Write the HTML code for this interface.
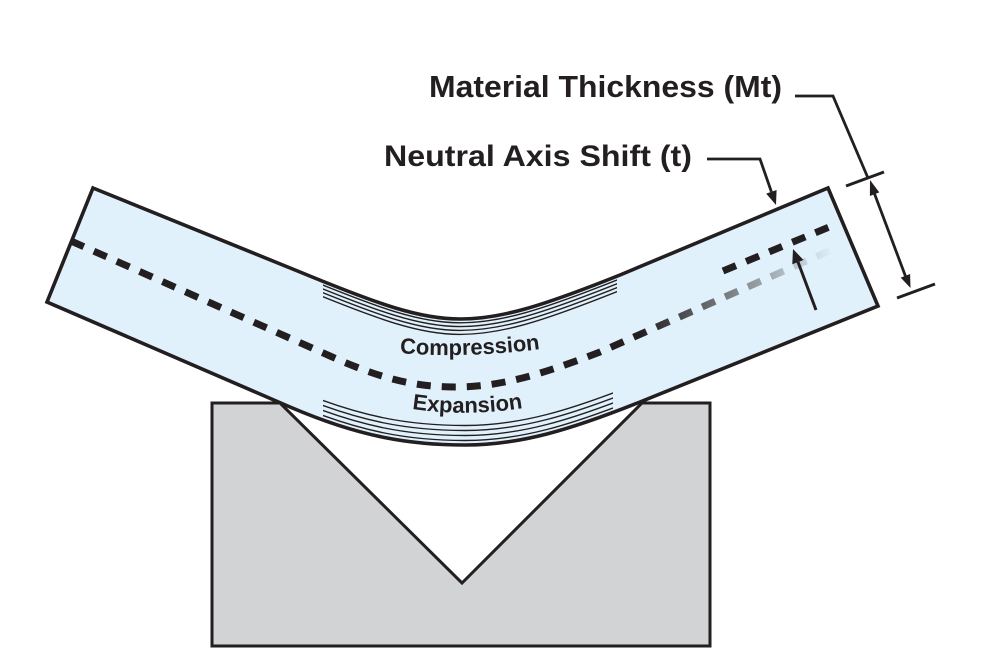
<!DOCTYPE html>
<html>
<head>
<meta charset="utf-8">
<style>
  html, body { margin: 0; padding: 0; background: #ffffff; }
  svg { display: block; }
  text { font-family: "Liberation Sans", "DejaVu Sans", sans-serif; font-weight: bold; fill: #231f20; }
</style>
</head>
<body>
<svg width="988" height="666" viewBox="0 0 988 666" xmlns="http://www.w3.org/2000/svg">
  <defs>
    <linearGradient id="fade" gradientUnits="userSpaceOnUse" x1="640" y1="0" x2="835" y2="0">
      <stop offset="0" stop-color="#231f20" stop-opacity="1"/>
      <stop offset="1" stop-color="#231f20" stop-opacity="0"/>
    </linearGradient>
    <clipPath id="clipTop"><rect x="323" y="200" width="294" height="200"/></clipPath>
    <clipPath id="clipBot"><rect x="323" y="350" width="290" height="120"/></clipPath>
    <path id="topEdge" d="M93,188 L300,272 C380,305 420,319 460,319 C500,319 540,307 620,275 L828,188"/>
    <path id="botEdge" d="M47,302 L290,407 C360,437 410,445 465,445 C520,445 570,430 640,402 L878,306"/>
    <path id="compPath" d="M385,352 Q468,360 555,347"/>
    <path id="expPath" d="M400,407 Q467,419 535,406"/>
  </defs>

  <!-- Die -->
  <path d="M280,403 H212 V646 H710 V403 H642 L462,583 Z" fill="#d1d3d4" stroke="#231f20" stroke-width="3" stroke-linejoin="miter"/>

  <!-- Sheet -->
  <path d="M93,188 L300,272 C380,305 420,319 460,319 C500,319 540,307 620,275 L828,188 L878,306 L640,402 C570,430 520,445 465,445 C410,445 360,437 290,407 L47,302 Z"
        fill="#e1f1fb" stroke="#231f20" stroke-width="3.6" stroke-linejoin="miter"/>

  <!-- Compression lines -->
  <g clip-path="url(#clipTop)" fill="none" stroke="#231f20" stroke-width="1.4">
    <use href="#topEdge" transform="translate(0,3.8)"/>
    <use href="#topEdge" transform="translate(0,7.6)"/>
    <use href="#topEdge" transform="translate(0,11.4)"/>
    <use href="#topEdge" transform="translate(0,15.4)"/>
  </g>

  <!-- Expansion lines -->
  <g clip-path="url(#clipBot)" fill="none" stroke="#231f20" stroke-width="1.4">
    <use href="#botEdge" transform="translate(0,-4.5)"/>
    <use href="#botEdge" transform="translate(0,-9.5)"/>
    <use href="#botEdge" transform="translate(0,-14.5)"/>
    <use href="#botEdge" transform="translate(0,-19.5)"/>
  </g>

  <!-- Neutral axis (main, fading) -->
  <path d="M71,241 L330,356 C375,376 410,387 455,387 C500,387 540,375 600,352 L845,244"
        fill="none" stroke="url(#fade)" stroke-width="7" stroke-dasharray="14 11"/>
  <!-- Shifted neutral axis -->
  <path d="M723,271 L834,225" fill="none" stroke="#231f20" stroke-width="7" stroke-dasharray="14 11"/>

  <!-- Shift arrow -->
  <line x1="816" y1="310" x2="798" y2="262" stroke="#231f20" stroke-width="3"/>
  <polygon points="793,249 803.5,260 792.3,264.2" fill="#231f20"/>

  <!-- Labels inside sheet -->
  <text font-size="22"><textPath href="#compPath" startOffset="50%" text-anchor="middle">Compression</textPath></text>
  <text font-size="22"><textPath href="#expPath" startOffset="50%" text-anchor="middle">Expansion</textPath></text>

  <!-- Titles -->
  <text x="429" y="97" font-size="30.5" textLength="353" lengthAdjust="spacingAndGlyphs">Material Thickness (Mt)</text>
  <text x="384" y="166" font-size="29.5" textLength="308" lengthAdjust="spacingAndGlyphs">Neutral Axis Shift (t)</text>

  <!-- Material thickness leader -->
  <polyline points="795,96 833,96 868,178" fill="none" stroke="#231f20" stroke-width="2.8"/>
  <!-- Ticks -->
  <line x1="846" y1="186" x2="884" y2="172" stroke="#231f20" stroke-width="3"/>
  <line x1="897" y1="298" x2="935" y2="284" stroke="#231f20" stroke-width="3"/>
  <!-- Dimension double arrow -->
  <line x1="874.6" y1="194" x2="905.4" y2="276" stroke="#231f20" stroke-width="2.8"/>
  <polygon points="870,180 879.3,192.4 869.9,196" fill="#231f20"/>
  <polygon points="910.5,288 910.1,274 900.7,277.6" fill="#231f20"/>

  <!-- Neutral axis leader -->
  <polyline points="707,159 760,159 771.4,191.8" fill="none" stroke="#231f20" stroke-width="2.8"/>
  <polygon points="776,205 776.6,190 766.2,193.6" fill="#231f20"/>
</svg>
</body>
</html>
